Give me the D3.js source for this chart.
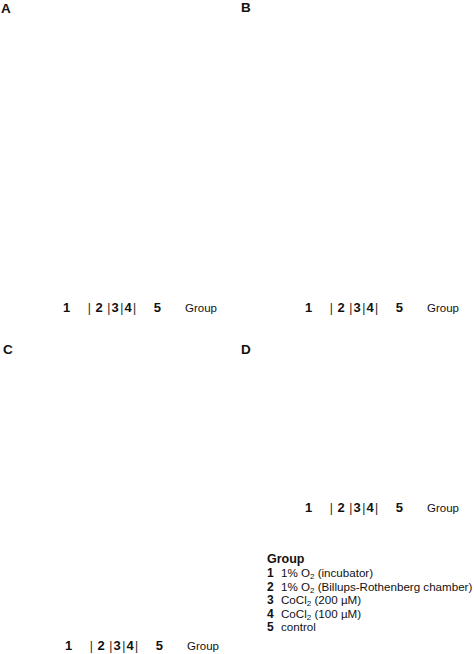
<!DOCTYPE html>
<html>
<head>
<meta charset="utf-8">
<script src="https://cdn.jsdelivr.net/npm/d3@7"></script>
<style>
  body { margin: 0; background: #fff; }
  svg { font-family: "Liberation Sans", Arial, sans-serif; }
</style>
</head>
<body>
<div class="wrapper"></div>
<script>
// group codes along the x axis, and how many lanes each group takes up
var groups = ["1", "2", "3", "4", "5"];
var laneCounts = [7, 3, 2, 2, 7];
var panelLetters = ["A", "B", "C", "D"];
var axisTitle = "Group";

// legend rows: code, text before subscript, subscript, text after
var legendCodes = ["1", "2", "3", "4", "5"];
var legendText = [
	["1% O", "2", " (incubator)"],
	["1% O", "2", " (Billups-Rothenberg chamber)"],
	["CoCl", "2", " (200 \u00b5M)"],
	["CoCl", "2", " (100 \u00b5M)"],
	["control", "", ""]
];

var W = 474, H = 654;

// where each panel sits on the page
var layout = [
	{dx: 0,   letterY: 13,  axisY: 312},
	{dx: 242, letterX: 241, letterY: 12, axisY: 312},
	{dx: 2,   letterX: 3,   letterY: 354, axisY: 650},
	{dx: 242, letterX: 241, letterY: 354, axisY: 512}
];

var svg = d3.select(".wrapper")
	.append("svg")
		.attr("width", W)
		.attr("height", H);

// lane edges -> cumulative positions
var edges = [0];
laneCounts.forEach(function(n, i) { edges.push(edges[i] + n); });

var x = d3.scaleLinear()
	.domain([0, edges[edges.length - 1]])
	.range([44, 180]);

var panels = svg.selectAll("g.panel")
	.data(panelLetters)
	.enter()
	.append("g")
		.attr("class", "panel");

panels.append("text")
	.text(function(d) { return d; })
	.attr("x", function(d, i) { return layout[i].letterX != null ? layout[i].letterX : 1; })
	.attr("y", function(d, i) { return layout[i].letterY; })
	.attr("font-size", 13.5)
	.attr("font-weight", "bold")
	.attr("fill", "#111");

panels.each(function(d, i) {
	var g = d3.select(this).append("g")
		.attr("transform", "translate(" + layout[i].dx + "," + layout[i].axisY + ")");

	// group numbers centred in their lanes
	g.selectAll("text.grp")
		.data(groups)
		.enter()
		.append("text")
			.attr("class", "grp")
			.text(function(d) { return d; })
			.attr("x", function(d, j) { return x((edges[j] + edges[j + 1]) / 2); })
			.attr("text-anchor", "middle")
			.attr("font-size", 13)
			.attr("font-weight", "bold")
			.attr("fill", "#111");

	// separators between groups
	g.selectAll("text.sep")
		.data(edges.slice(1, -1))
		.enter()
		.append("text")
			.attr("class", "sep")
			.text("|")
			.attr("x", function(d) { return x(d); })
			.attr("y", -0.5)
			.attr("text-anchor", "middle")
			.attr("font-size", 12)
			.attr("fill", "#222");

	g.append("text")
		.text(axisTitle)
		.attr("x", x.range()[1] + 5)
		.attr("font-size", 11.5)
		.attr("fill", "#111");
});

// legend
var leg = svg.append("g")
	.attr("transform", "translate(267,0)");

leg.append("text")
	.text(axisTitle)
	.attr("y", 563)
	.attr("font-size", 12.5)
	.attr("font-weight", "bold")
	.attr("fill", "#111");

var rows = leg.selectAll("g.row")
	.data(legendCodes)
	.enter()
	.append("g")
		.attr("class", "row")
		.attr("transform", function(d, i) { return "translate(0," + (577 + i * 13.5) + ")"; });

rows.append("text")
	.text(function(d) { return d; })
	.attr("font-size", 12)
	.attr("font-weight", "bold")
	.attr("fill", "#111");

var label = rows.append("text")
	.attr("x", 14)
	.attr("font-size", 11.6)
	.attr("fill", "#111");

label.append("tspan")
	.text(function(d, i) { return legendText[i][0]; });
label.append("tspan")
	.text(function(d, i) { return legendText[i][1]; })
	.attr("font-size", 8)
	.attr("dy", 2);
label.append("tspan")
	.text(function(d, i) { return legendText[i][2]; })
	.attr("dy", -2);
</script>
</body>
</html>
